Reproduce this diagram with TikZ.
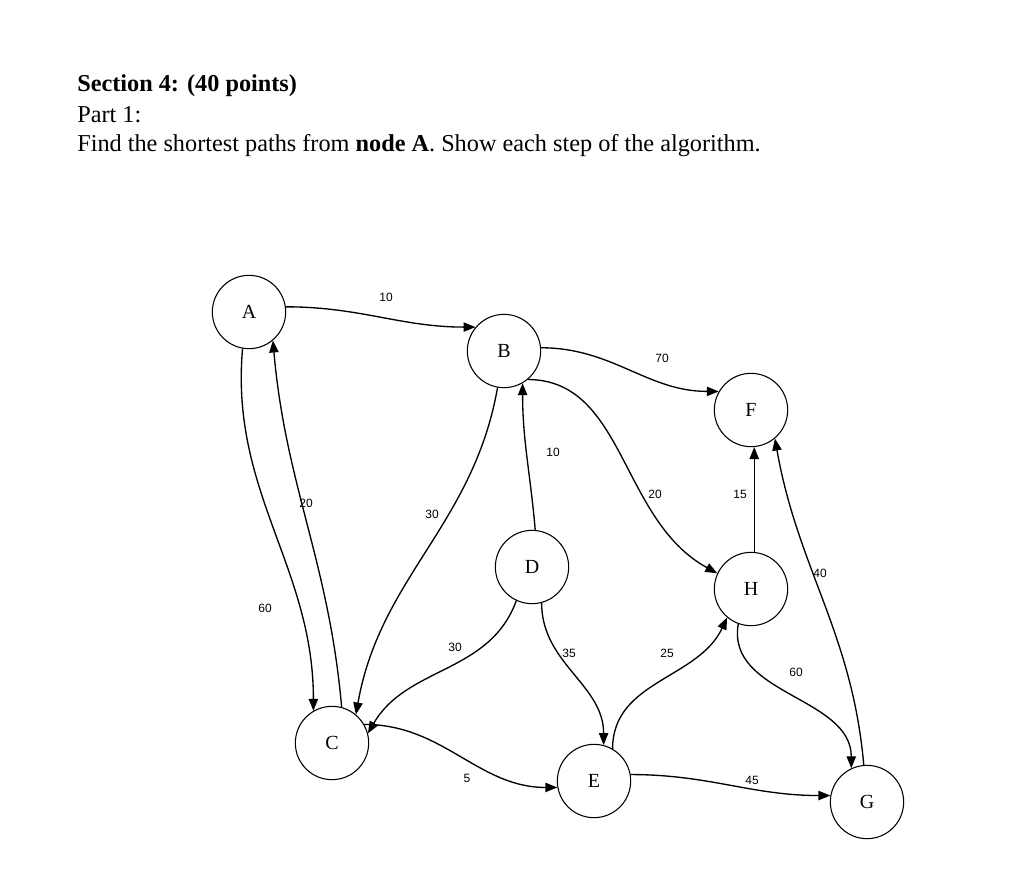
\documentclass[tikz,border=0pt]{standalone}
\usepackage{fontspec}
\setmainfont{Liberation Serif}
\newfontfamily\lblfont{Liberation Sans}
\usetikzlibrary{arrows.meta}
\begin{document}
\begin{tikzpicture}[x=0.75pt,y=-0.75pt,
  nd/.style={circle,draw,line width=0.8pt,minimum size=55pt,inner sep=0pt,font=\fontsize{15}{17}\selectfont},
  e/.style={line width=1pt,-{Triangle[length=9pt,width=7pt]}},
  lb/.style={font=\lblfont\fontsize{9}{10}\selectfont,inner sep=1pt}]
\useasboundingbox (0,0) rectangle (1024,868);
\node[anchor=base west,inner sep=0pt,font=\fontsize{18.2}{21}\selectfont] (t1) at (77,91) {\textbf{Section 4: (40 points)}};
\node[anchor=base west,inner sep=0pt,font=\fontsize{18.2}{21}\selectfont] (t2) at (77,122) {Part 1:};
\node[anchor=base west,inner sep=0pt,font=\fontsize{18.2}{21}\selectfont] (t3) at (77,151) {Find the shortest paths from \textbf{node A}. Show each step of the algorithm.};
\node[nd] (A) at (249,312) {A};
\node[nd] (B) at (504,351) {B};
\node[nd] (F) at (751,410) {F};
\node[nd] (D) at (532,567) {D};
\node[nd] (H) at (751,589) {H};
\node[nd] (C) at (332,743) {C};
\node[nd] (E) at (594,781) {E};
\node[nd] (G) at (867,802) {G};
\draw[e] (A.8) to[out=0,in=180] (B.140);
\draw[e] (B.5) to[out=0,in=180] (F.150);
\draw[e] (B.-50) .. controls (625,380) and (620,520) .. (H.155);
\draw[e] (D.85) to[out=95,in=-90] (B.-60);
\draw[e] (H.85) -- (F.-85);
\draw[e] (G.95) to[out=95,in=-80] (F.-50);
\draw[e] (H.-110) to[out=-100,in=90] (G.115);
\draw[e] (E.60) to[out=90,in=-115] (H.-130);
\draw[e] (E.10) to[out=0,in=180] (G.170);
\draw[e] (D.-75) to[out=-90,in=90] (E.75);
\draw[e] (D.-115) to[out=-110,in=60] (C.15);
\draw[e] (B.-100) to[out=-100,in=80] (C.50);
\draw[e] (A.-100) to[out=-95,in=90] (C.120);
\draw[e] (C.75) to[out=95,in=-85] (A.-50);
\draw[e] (C.30) to[out=0,in=180] (E.190);
\node[lb] (l1) at (386,297) {10};
\node[lb] (l2) at (662,358) {70};
\node[lb] (l3) at (655,494) {20};
\node[lb] (l4) at (553,452) {10};
\node[lb] (l5) at (740,494) {15};
\node[lb] (l6) at (820,573) {40};
\node[lb] (l7) at (796,672) {60};
\node[lb] (l8) at (667,653) {25};
\node[lb] (l9) at (752,780) {45};
\node[lb] (l10) at (569,653) {35};
\node[lb] (l11) at (455,647) {30};
\node[lb] (l12) at (432,514) {30};
\node[lb] (l13) at (265,608) {60};
\node[lb] (l14) at (306,503) {20};
\node[lb] (l15) at (467,778) {5};
\end{tikzpicture}
\end{document}
